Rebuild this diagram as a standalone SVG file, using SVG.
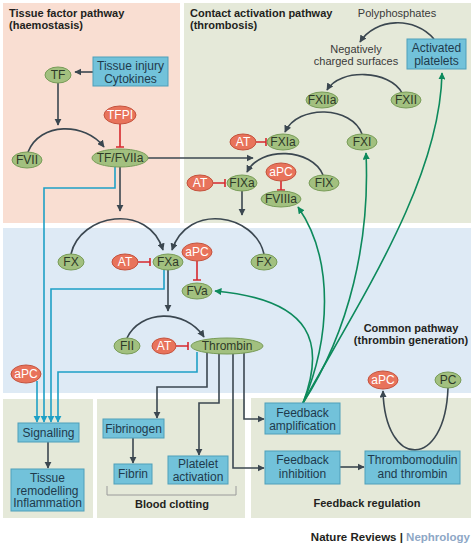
<svg xmlns="http://www.w3.org/2000/svg" width="474" height="549" viewBox="0 0 474 549">
<defs>
<style>
text{font-family:"Liberation Sans",Arial,sans-serif;}
.title{font-size:11px;font-weight:bold;fill:#231f20;}
.lbl{font-size:11px;fill:#3a3a3a;text-anchor:middle;}
.nt{font-size:12px;fill:#2e3a28;text-anchor:middle;}
.rt{font-size:12px;fill:#ffffff;text-anchor:middle;}
.bt{font-size:12px;fill:#1f3a4c;text-anchor:middle;}
.g{fill:#a2c07f;stroke:#789c58;stroke-width:1;}
.r{fill:#e8735b;stroke:#c4523d;stroke-width:1;}
.box{fill:#72c2da;stroke:#4f9fba;stroke-width:1;}
.dk{fill:none;stroke:#3b4750;stroke-width:1.6;}
.cy{fill:none;stroke:#1ea0c6;stroke-width:1.6;}
.gr{fill:none;stroke:#0d8a5c;stroke-width:1.6;}
.inh{fill:none;stroke:#d6282e;stroke-width:1.6;}
</style>
<marker id="ad" viewBox="0 0 10 10" refX="9" refY="5" markerWidth="4.5" markerHeight="4.5" orient="auto" markerUnits="strokeWidth"><path d="M0,0 L10,5 L0,10 z" fill="#3b4750"/></marker>
<marker id="ac" viewBox="0 0 10 10" refX="9" refY="5" markerWidth="4.5" markerHeight="4.5" orient="auto" markerUnits="strokeWidth"><path d="M0,0 L10,5 L0,10 z" fill="#1ea0c6"/></marker>
<marker id="ag" viewBox="0 0 10 10" refX="9" refY="5" markerWidth="4.5" markerHeight="4.5" orient="auto" markerUnits="strokeWidth"><path d="M0,0 L10,5 L0,10 z" fill="#0d8a5c"/></marker>
</defs>
<rect width="474" height="549" fill="#ffffff"/>
<g id="panels">
<rect x="3" y="3" width="177" height="220" fill="#f9ded2"/>
<rect x="184" y="3" width="287" height="220" fill="#e5e9d9"/>
<rect x="3" y="228" width="468" height="165" fill="#deeaf5"/>
<rect x="3" y="399" width="90" height="119" fill="#e5e9d9"/>
<rect x="97" y="399" width="148" height="119" fill="#e5e9d9"/>
<rect x="251" y="398" width="220" height="120" fill="#e5e9d9"/>
</g>
<g id="titles">
<text class="title" x="9" y="17">Tissue factor pathway</text>
<text class="title" x="9" y="29">(haemostasis)</text>
<text class="title" x="190" y="17">Contact activation pathway</text>
<text class="title" x="190" y="29">(thrombosis)</text>
<text class="title" x="411" y="332" text-anchor="middle">Common pathway</text>
<text class="title" x="411" y="344" text-anchor="middle">(thrombin generation)</text>
<text class="title" x="172" y="508" text-anchor="middle">Blood clotting</text>
<text class="title" x="367" y="507" text-anchor="middle">Feedback regulation</text>
<text class="title" x="470" y="541" text-anchor="end" style="font-size:11.5px">Nature Reviews | <tspan fill="#8ea7c6">Nephrology</tspan></text>
</g>
<g id="connectors">
<path class="dk" d="M93,72 L75,72" marker-end="url(#ad)"/>
<path class="dk" d="M58,83 L58,125" marker-end="url(#ad)"/>
<path class="dk" d="M28,152 C40,122 85,122 104,147" marker-end="url(#ad)"/>
<path class="dk" d="M148,158 L253,158" marker-end="url(#ad)"/>
<path class="dk" d="M120,166 L120,211" marker-end="url(#ad)"/>
<path class="dk" d="M434,39 C415,16 375,18 360,42" marker-end="url(#ad)"/>
<path class="dk" d="M402,93 C390,70 340,68 327,90" marker-end="url(#ad)"/>
<path class="dk" d="M362,134 C352,106 298,104 285,132" marker-end="url(#ad)"/>
<path class="dk" d="M323,175 C312,148 260,146 247,172" marker-end="url(#ad)"/>
<path class="dk" d="M242,191 L242,215" marker-end="url(#ad)"/>
<path class="dk" d="M71,254 C80,214 148,202 163,250" marker-end="url(#ad)"/>
<path class="dk" d="M264,254 C255,214 188,202 172,250" marker-end="url(#ad)"/>
<path class="dk" d="M168,270 L168,311" marker-end="url(#ad)"/>
<path class="dk" d="M127,338 C140,310 185,308 204,337" marker-end="url(#ad)"/>
<path class="dk" d="M207,352 L207,387 L157,387 L157,418" marker-end="url(#ad)"/>
<path class="dk" d="M219,352 L219,403 L199,403 L199,455" marker-end="url(#ad)"/>
<path class="dk" d="M233,352 L233,468 L264,468" marker-end="url(#ad)"/>
<path class="dk" d="M244,352 L244,419 L264,419" marker-end="url(#ad)"/>
<path class="cy" d="M37,381 L37,422" marker-end="url(#ac)"/>
<path class="cy" d="M115,165 L115,188 L44,188 L44,422" marker-end="url(#ac)"/>
<path class="cy" d="M164,269 L164,289 L51,289 L51,422" marker-end="url(#ac)"/>
<path class="cy" d="M197,352 L197,372 L58,372 L58,422" marker-end="url(#ac)"/>
<path class="dk" d="M48,442 L48,468" marker-end="url(#ad)"/>
<path class="dk" d="M133,438 L133,463" marker-end="url(#ad)"/>
<path class="dk" d="M340,467 L364,467" marker-end="url(#ad)"/>
<path class="dk" d="M448,388 C445,470 385,470 383,391" marker-end="url(#ad)"/>
<path d="M107,486 L107,495 L236,495 L236,486" fill="none" stroke="#9a9a9a" stroke-width="1"/>
<path class="gr" d="M303,403 C325,345 315,300 215,291" marker-end="url(#ag)"/>
<path class="gr" d="M303,403 C330,340 335,260 298,207" marker-end="url(#ag)"/>
<path class="gr" d="M303,403 C350,330 370,240 366,153" marker-end="url(#ag)"/>
<path class="gr" d="M303,403 C360,300 440,180 442,73" marker-end="url(#ag)"/>
<path class="inh" d="M120,124 L120,147 M116,147 L124,147"/>
<path class="inh" d="M256,142 L266,142 M266,138 L266,146"/>
<path class="inh" d="M213,183 L225,183 M225,179 L225,187"/>
<path class="inh" d="M281,181 L281,190 M277,190 L285,190"/>
<path class="inh" d="M138,262 L150,262 M150,258 L150,266"/>
<path class="inh" d="M197,261 L197,280 M193,280 L201,280"/>
<path class="inh" d="M176,346 L188,346 M188,342 L188,350"/>
</g>
<g id="n-tf"><ellipse class="g" cx="58" cy="75" rx="13" ry="8"/><text class="nt" x="58" y="79">TF</text></g>
<g id="n-injury"><rect class="box" x="93" y="57" width="75" height="29"/><text class="bt" x="130.5" y="70">Tissue injury</text><text class="bt" x="130.5" y="82.5">Cytokines</text></g>
<g id="n-tfpi"><ellipse class="r" cx="120" cy="115" rx="16" ry="9"/><text class="rt" x="120" y="119">TFPI</text></g>
<g id="n-fvii"><ellipse class="g" cx="27" cy="160" rx="15" ry="8"/><text class="nt" x="27" y="164">FVII</text></g>
<g id="n-tffviia"><ellipse class="g" cx="120" cy="158" rx="28" ry="9"/><text class="nt" x="120" y="162">TF/FVIIa</text></g>
<g id="n-poly"><text class="lbl" x="397" y="17">Polyphosphates</text></g>
<g id="n-neg"><text class="lbl" x="356" y="53">Negatively</text><text class="lbl" x="356" y="65">charged surfaces</text></g>
<g id="n-actplt"><rect class="box" x="407" y="39" width="59" height="30"/><text class="bt" x="436.5" y="52">Activated</text><text class="bt" x="436.5" y="64.5">platelets</text></g>
<g id="n-fxiia"><ellipse class="g" cx="322" cy="100" rx="16" ry="8"/><text class="nt" x="322" y="104">FXIIa</text></g>
<g id="n-fxii"><ellipse class="g" cx="406" cy="100" rx="15" ry="8"/><text class="nt" x="406" y="104">FXII</text></g>
<g id="n-at1"><ellipse class="r" cx="243" cy="142" rx="13" ry="8"/><text class="rt" x="243" y="146">AT</text></g>
<g id="n-fxia"><ellipse class="g" cx="283" cy="142" rx="16" ry="8"/><text class="nt" x="283" y="146">FXIa</text></g>
<g id="n-fxi"><ellipse class="g" cx="362" cy="142" rx="15" ry="8"/><text class="nt" x="362" y="146">FXI</text></g>
<g id="n-at2"><ellipse class="r" cx="200" cy="183" rx="13" ry="8"/><text class="rt" x="200" y="187">AT</text></g>
<g id="n-fixa"><ellipse class="g" cx="242" cy="183" rx="15" ry="8"/><text class="nt" x="242" y="187">FIXa</text></g>
<g id="n-apc1"><ellipse class="r" cx="281" cy="172" rx="15" ry="9"/><text class="rt" x="281" y="176">aPC</text></g>
<g id="n-fix"><ellipse class="g" cx="324" cy="183" rx="15" ry="8"/><text class="nt" x="324" y="187">FIX</text></g>
<g id="n-fviiia"><ellipse class="g" cx="281" cy="199" rx="20" ry="8"/><text class="nt" x="281" y="203">FVIIIa</text></g>
<g id="n-fx1"><ellipse class="g" cx="71" cy="262" rx="13" ry="8"/><text class="nt" x="71" y="266">FX</text></g>
<g id="n-at3"><ellipse class="r" cx="125" cy="262" rx="13" ry="8"/><text class="rt" x="125" y="266">AT</text></g>
<g id="n-fxa"><ellipse class="g" cx="168" cy="262" rx="15" ry="8"/><text class="nt" x="168" y="266">FXa</text></g>
<g id="n-apc2"><ellipse class="r" cx="197" cy="252" rx="15" ry="9"/><text class="rt" x="197" y="256">aPC</text></g>
<g id="n-fva"><ellipse class="g" cx="197" cy="291" rx="15" ry="8"/><text class="nt" x="197" y="295">FVa</text></g>
<g id="n-fx2"><ellipse class="g" cx="264" cy="262" rx="13" ry="8"/><text class="nt" x="264" y="266">FX</text></g>
<g id="n-fii"><ellipse class="g" cx="127" cy="346" rx="13" ry="8"/><text class="nt" x="127" y="350">FII</text></g>
<g id="n-at4"><ellipse class="r" cx="164" cy="346" rx="12" ry="8"/><text class="rt" x="164" y="350">AT</text></g>
<g id="n-thrombin"><ellipse class="g" cx="227" cy="346" rx="36" ry="8"/><text class="nt" x="227" y="350">Thrombin</text></g>
<g id="n-apc3"><ellipse class="r" cx="26" cy="374" rx="15" ry="9"/><text class="rt" x="26" y="378">aPC</text></g>
<g id="n-apc4"><ellipse class="r" cx="383" cy="380" rx="15" ry="9"/><text class="rt" x="383" y="384">aPC</text></g>
<g id="n-pc"><ellipse class="g" cx="448" cy="380" rx="13" ry="8"/><text class="nt" x="448" y="384">PC</text></g>
<g id="n-signalling"><rect class="box" x="18" y="423" width="61" height="19"/><text class="bt" x="48.5" y="436.5">Signalling</text></g>
<g id="n-remodel"><rect class="box" x="11" y="469" width="73" height="42"/><text class="bt" x="47.5" y="482">Tissue</text><text class="bt" x="47.5" y="494.5">remodelling</text><text class="bt" x="47.5" y="507">Inflammation</text></g>
<g id="n-fibrinogen"><rect class="box" x="103" y="419" width="61" height="19"/><text class="bt" x="133.5" y="432.5">Fibrinogen</text></g>
<g id="n-fibrin"><rect class="box" x="114" y="464" width="38" height="20"/><text class="bt" x="133" y="478">Fibrin</text></g>
<g id="n-platelet"><rect class="box" x="168" y="456" width="60" height="28"/><text class="bt" x="198" y="467.5">Platelet</text><text class="bt" x="198" y="480.5">activation</text></g>
<g id="n-fbamp"><rect class="box" x="265" y="403" width="75" height="31"/><text class="bt" x="302.5" y="416.5">Feedback</text><text class="bt" x="302.5" y="429.5">amplification</text></g>
<g id="n-fbinh"><rect class="box" x="265" y="451" width="75" height="33"/><text class="bt" x="302.5" y="464">Feedback</text><text class="bt" x="302.5" y="477.5">inhibition</text></g>
<g id="n-tm"><rect class="box" x="365" y="451" width="95" height="33"/><text class="bt" x="412.5" y="464">Thrombomodulin</text><text class="bt" x="412.5" y="477.5">and thrombin</text></g>
</svg>
